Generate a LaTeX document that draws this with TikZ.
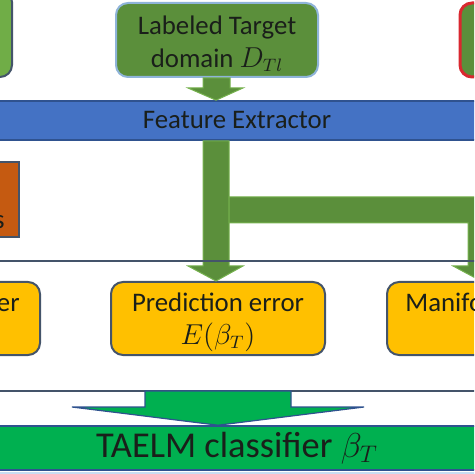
\documentclass[tikz,border=0pt]{standalone}
\usepackage{fontspec}
\setmainfont{Carlito}
\definecolor{greenlight}{HTML}{70AD47}
\definecolor{greendark}{HTML}{5B8F3B}
\definecolor{arrowedge}{HTML}{76B24E}
\definecolor{edgelight}{HTML}{8FB4D9}
\definecolor{edgeblue}{HTML}{2F528F}
\definecolor{edgegray}{HTML}{44546A}
\definecolor{redline}{HTML}{D9282F}
\definecolor{bluebar}{HTML}{4472C4}
\definecolor{orangebox}{HTML}{C55A11}
\definecolor{yellowbox}{HTML}{FFC000}
\definecolor{greenbar}{HTML}{00B050}
\definecolor{stripblue}{HTML}{C9DDF2}
\definecolor{textdark}{HTML}{1A1F1A}
\tikzset{
  roundbox/.style={draw, rounded corners=6pt, line width=1pt, inner sep=0pt, align=center},
  bar/.style={draw=edgeblue, line width=0.8pt, inner sep=0pt, minimum width=247pt},
  blockarrow/.style={fill=greendark, draw=arrowedge, line width=0.5pt},
  thinline/.style={draw=edgegray, line width=0.8pt},
}
\begin{document}
\begin{tikzpicture}[x=0.5pt,y=-0.5pt,
  every node/.style={text=textdark, font=\fontsize{13.4}{16.5}\selectfont}]
\useasboundingbox (0,0) rectangle (474,474);
\clip (0,0) rectangle (474,474);

% top row of domains
\node[roundbox, fill=greenlight, draw=edgegray, minimum width=26pt, minimum height=43.5pt] (srcbox) at (-14,33.5) {};
\node[roundbox, fill=greendark, draw=edgelight, minimum width=101pt, minimum height=37pt] (target) at (217,40) {\rule{0pt}{13pt}Labeled Target\\domain $D_{Tl}$};
\node[roundbox, fill=greendark, draw=redline, line width=1.5pt, minimum width=50pt, minimum height=37pt] (unlbox) at (510,40) {};

% feature extractor
\node[bar, fill=bluebar, minimum height=19.5pt] (fe) at (237,120.5) {Feature Extractor};
\draw[blockarrow] (target.south -| 203,0) -- (target.south -| 230,0) -- (230,88) -- (243,88)
  -- (fe.north -| 216,0) -- (188,88) -- (203,88) -- cycle;

% left parameters box
\node[draw=edgegray, line width=0.8pt, fill=orangebox, minimum width=39.5pt, minimum height=37.5pt] (parbox) at (-20.5,199.5) {};
\node[anchor=base east, inner sep=0pt] (partxt) at (5,229) {s};

% loss terms
\node[roundbox, fill=yellowbox, draw=edgegray, minimum width=60pt, minimum height=36.5pt] (clsbox) at (-20,318.5) {};
\node[anchor=base east, inner sep=0pt] (clstxt) at (20,312) {er};
\node[roundbox, fill=yellowbox, draw=edgegray, minimum width=107pt, minimum height=36.5pt] (predbox) at (218,318.5) {\rule{0pt}{13pt}Prediction error\\$E(\beta_T)$};
\node[roundbox, fill=yellowbox, draw=edgegray, minimum width=66.5pt, minimum height=36.5pt] (manbox) at (453.5,318.5) {};
\node[anchor=base west, inner sep=0pt] (mantxt) at (405,312) {Manifold};

% arrows from feature extractor
\draw[blockarrow] (fe.south -| 203,0) -- (fe.south -| 229,0) -- (229,266) -- (243,266)
  -- (predbox.north -| 216,0) -- (188,266) -- (203,266) -- cycle;
\draw[blockarrow] (229,197) -- (494,197) -- (494,266) -- (509,266)
  -- (manbox.north -| 481,0) -- (453,266) -- (468,266) -- (468,223) -- (229,223) -- cycle;

% frame lines
\draw[thinline] (-10,261) -- (484,261);
\coordinate (lowline) at (0,391);
\draw[thinline] (-10,391) -- (484,391);

% classifier
\node[bar, fill=greenbar, minimum height=22pt, font=\fontsize{18.2}{22}\selectfont] (taelm) at (237,448) {TAELM classifier $\beta_T$};
\fill[stripblue] (-10,471.5) rectangle (484,480);
\draw[fill=greenbar, draw=edgeblue, line width=0.6pt] (lowline -| 145,0) -- (lowline -| 291,0) -- (291,407) -- (364,407)
  -- (taelm.north -| 218,0) -- (72,407) -- (145,407) -- cycle;
\end{tikzpicture}
\end{document}
